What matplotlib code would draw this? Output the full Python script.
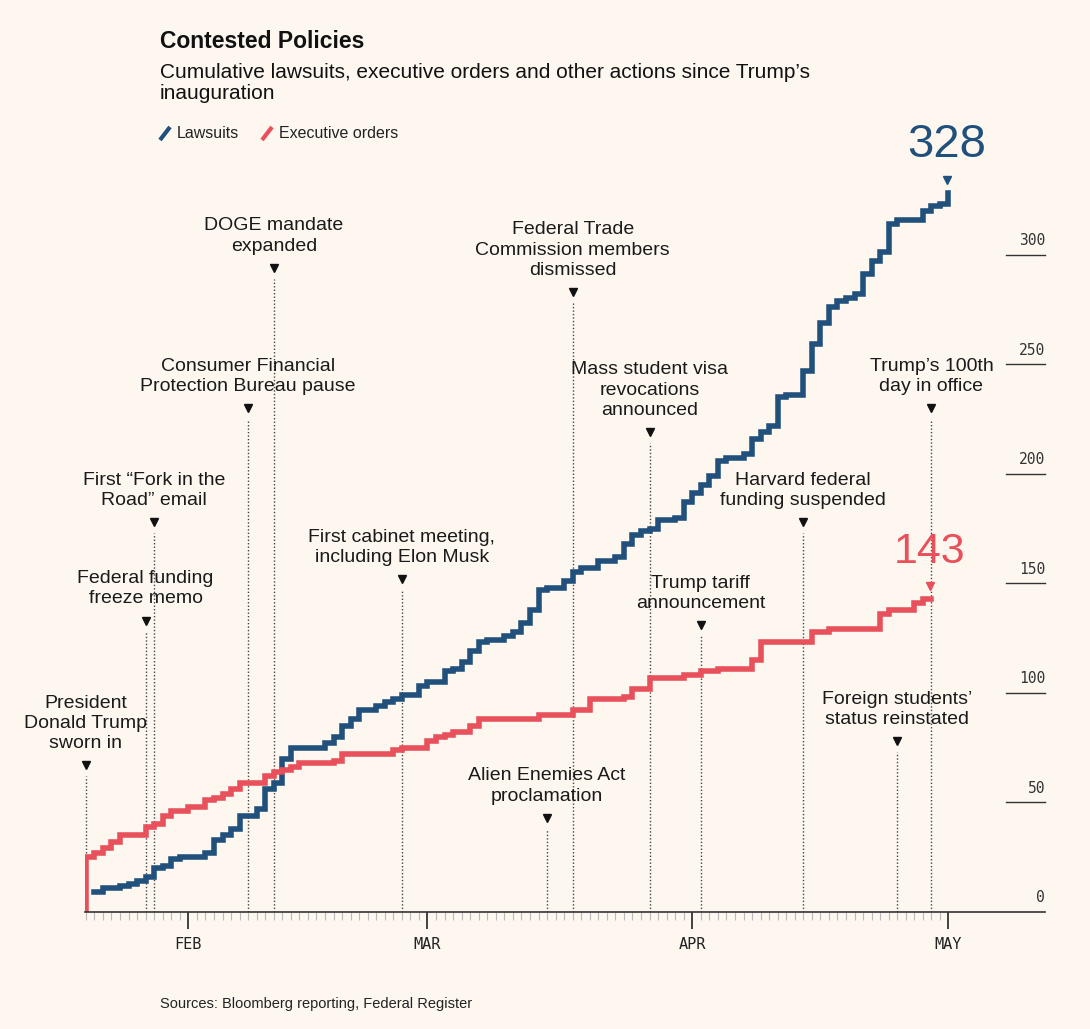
import matplotlib
matplotlib.use("Agg")
import matplotlib.pyplot as plt
from matplotlib.lines import Line2D
import pandas as pd

plt.rcParams['font.family'] = ['Liberation Sans', 'DejaVu Sans']

START = pd.Timestamp('2025-01-20')
BG = '#fdf7f0'
BLUE = '#21507c'
RED = '#e8505b'

# days since inauguration -> cumulative count
lawsuit_days = [1, 2, 4, 5, 6, 7, 8, 9, 10, 11,
                14, 15, 16, 17, 18, 20, 21, 22, 23, 24,
                28, 29, 30, 31, 32, 34, 35, 36, 37, 39,
                40, 42, 43, 44, 45, 46, 47, 49, 50, 51,
                52, 53, 54, 56, 57, 58, 60, 62, 63, 64,
                65, 66, 67, 69, 70, 71, 72, 73, 74, 75,
                77, 78, 79, 80, 81, 82, 84, 85, 86, 87,
                88, 89, 90, 91, 92, 93, 94, 95, 98, 99,
                100, 101]
lawsuit_vals = [9, 11, 12, 13, 14, 16, 20, 21, 24, 25,
                27, 33, 35, 38, 44, 47, 56, 59, 70, 75,
                77, 80, 85, 88, 92, 94, 96, 97, 99, 103,
                105, 110, 111, 114, 119, 123, 124, 126, 128, 132,
                138, 147, 148, 151, 155, 157, 160, 162, 168, 172,
                174, 175, 179, 180, 187, 191, 195, 199, 206, 207,
                209, 216, 219, 222, 235, 236, 247, 259, 269, 276,
                279, 280, 282, 291, 297, 301, 314, 316, 320, 322,
                323, 328]

order_days = [0, 1, 2, 3, 4, 7, 8, 9, 10, 12,
              14, 15, 16, 17, 18, 21, 22, 23, 24, 25,
              29, 30, 36, 37, 40, 41, 42, 43, 45, 46,
              53, 57, 59, 63, 64, 66, 70, 72, 74, 78,
              79, 85, 87, 93, 94, 97, 98, 99]
order_vals = [25, 27, 29, 32, 35, 39, 40, 44, 46, 48,
              51, 52, 54, 56, 59, 62, 64, 65, 66, 68,
              69, 72, 74, 75, 78, 80, 81, 82, 85, 88,
              90, 92, 97, 98, 102, 107, 108, 110, 111, 115,
              123, 128, 129, 136, 138, 141, 143, 143]

# day, arrow level (count units), label
events = [
    (0, 67, "President\nDonald Trump\nsworn in"),
    (7, 133, "Federal funding\nfreeze memo"),
    (8, 178, "First \u201cFork in the\nRoad\u201d email"),
    (19, 230, "Consumer Financial\nProtection Bureau pause"),
    (22, 294, "DOGE mandate\nexpanded"),
    (37, 152, "First cabinet meeting,\nincluding Elon Musk"),
    (54, 43, "Alien Enemies Act\nproclamation"),
    (57, 283, "Federal Trade\nCommission members\ndismissed"),
    (66, 219, "Mass student visa\nrevocations\nannounced"),
    (72, 131, "Trump tariff\nannouncement"),
    (84, 178, "Harvard federal\nfunding suspended"),
    (95, 78, "Foreign students\u2019\nstatus reinstated"),
    (99, 230, "Trump\u2019s 100th\nday in office"),
]

y_ticks = [0, 50, 100, 150, 200, 250, 300]
month_days = [12, 40, 71, 101]
month_labels = ['FEB', 'MAR', 'APR', 'MAY']

def day(d):
    return START + pd.Timedelta(days=d)

fig = plt.figure(figsize=(10.9, 10.29), dpi=100)
fig.patch.set_facecolor(BG)
ax = fig.add_axes([85 / 1090, 117 / 1029, 960 / 1090, 745 / 1029])
ax.set_facecolor(BG)
for s in ['top', 'right', 'left']:
    ax.spines[s].set_visible(False)
ax.spines['bottom'].set_color('#333333')
ax.spines['bottom'].set_linewidth(1.2)
ax.set_yticks([])

# annotations
for d, lvl, txt in events:
    x = day(d)
    ax.vlines(x, 0, lvl - 5, colors='#444444', linestyles=(0, (1, 1.5)), linewidth=1)
    ax.plot([x], [lvl], marker='v', color='#111111', markersize=6, clip_on=False)
    ax.text(x, lvl + 6, txt, ha='center', va='bottom', fontsize=14,
            color='#1a1a1a', linespacing=1.25)

# lines
ax.step([day(d) for d in lawsuit_days], lawsuit_vals, where='post',
        color=BLUE, linewidth=4, solid_joinstyle='miter')
ax.step([day(d) for d in order_days], order_vals, where='post',
        color=RED, linewidth=4, solid_joinstyle='miter')
ax.vlines(day(0), 0, order_vals[0], colors=RED, linewidth=4)

# end labels
ax.plot([day(100.8)], [334], marker='v', color=BLUE, markersize=6, clip_on=False)
ax.text(day(100.8), 340, str(lawsuit_vals[-1]), ha='center', va='bottom', fontsize=34,
        color=BLUE, clip_on=False)
ax.plot([day(98.8)], [149], marker='v', color=RED, markersize=6)
ax.text(day(98.8), 155, str(order_vals[-1]), ha='center', va='bottom', fontsize=31,
        color=RED)

# right axis labels
for v in y_ticks:
    if v > 0:
        ax.plot([day(107.7), day(112.3)], [v, v], color='#333333', linewidth=1, clip_on=False)
    ax.text(day(112.3), v + 3, str(v), ha='right', va='bottom', fontsize=10.5,
            family='DejaVu Sans Mono', color='#333333')

# x ticks
ax.set_xticks([day(d) for d in month_days])
ax.set_xticklabels(month_labels, family='DejaVu Sans Mono', color='#222222')
ax.set_xticks([day(d) for d in range(0, 101)], minor=True)
ax.tick_params(axis='x', which='major', length=12, width=1.3, color='#333333', pad=6,
               labelsize=11)
ax.tick_params(axis='x', which='minor', length=6, width=0.8, color='#bbbbbb')
ax.set_xlim(day(-0.1), day(112.3))
ax.set_ylim(0, 340)

# titles and legend
fig.text(160 / 1090, 1 - 42 / 1029, "Contested Policies", fontsize=16.5, fontweight='bold',
         va='center', color='#111111')
fig.text(160 / 1090, 1 - 83 / 1029,
         "Cumulative lawsuits, executive orders and other actions since Trump\u2019s\ninauguration",
         fontsize=15, va='center', color='#111111', linespacing=1.1)
for x0, col, lab in [(160, BLUE, "Lawsuits"), (262, RED, "Executive orders")]:
    fig.add_artist(Line2D([x0 / 1090, (x0 + 10) / 1090], [1 - 140 / 1029, 1 - 127 / 1029],
                          color=col, linewidth=3, solid_capstyle='butt'))
    fig.text((x0 + 17) / 1090, 1 - 133 / 1029, lab, fontsize=11.5, va='center', color='#222222')
fig.text(160 / 1090, 1 - 1004 / 1029, "Sources: Bloomberg reporting, Federal Register",
         fontsize=10.5, va='center', color='#222222')

fig.savefig('out.png', dpi=100, facecolor=BG)
